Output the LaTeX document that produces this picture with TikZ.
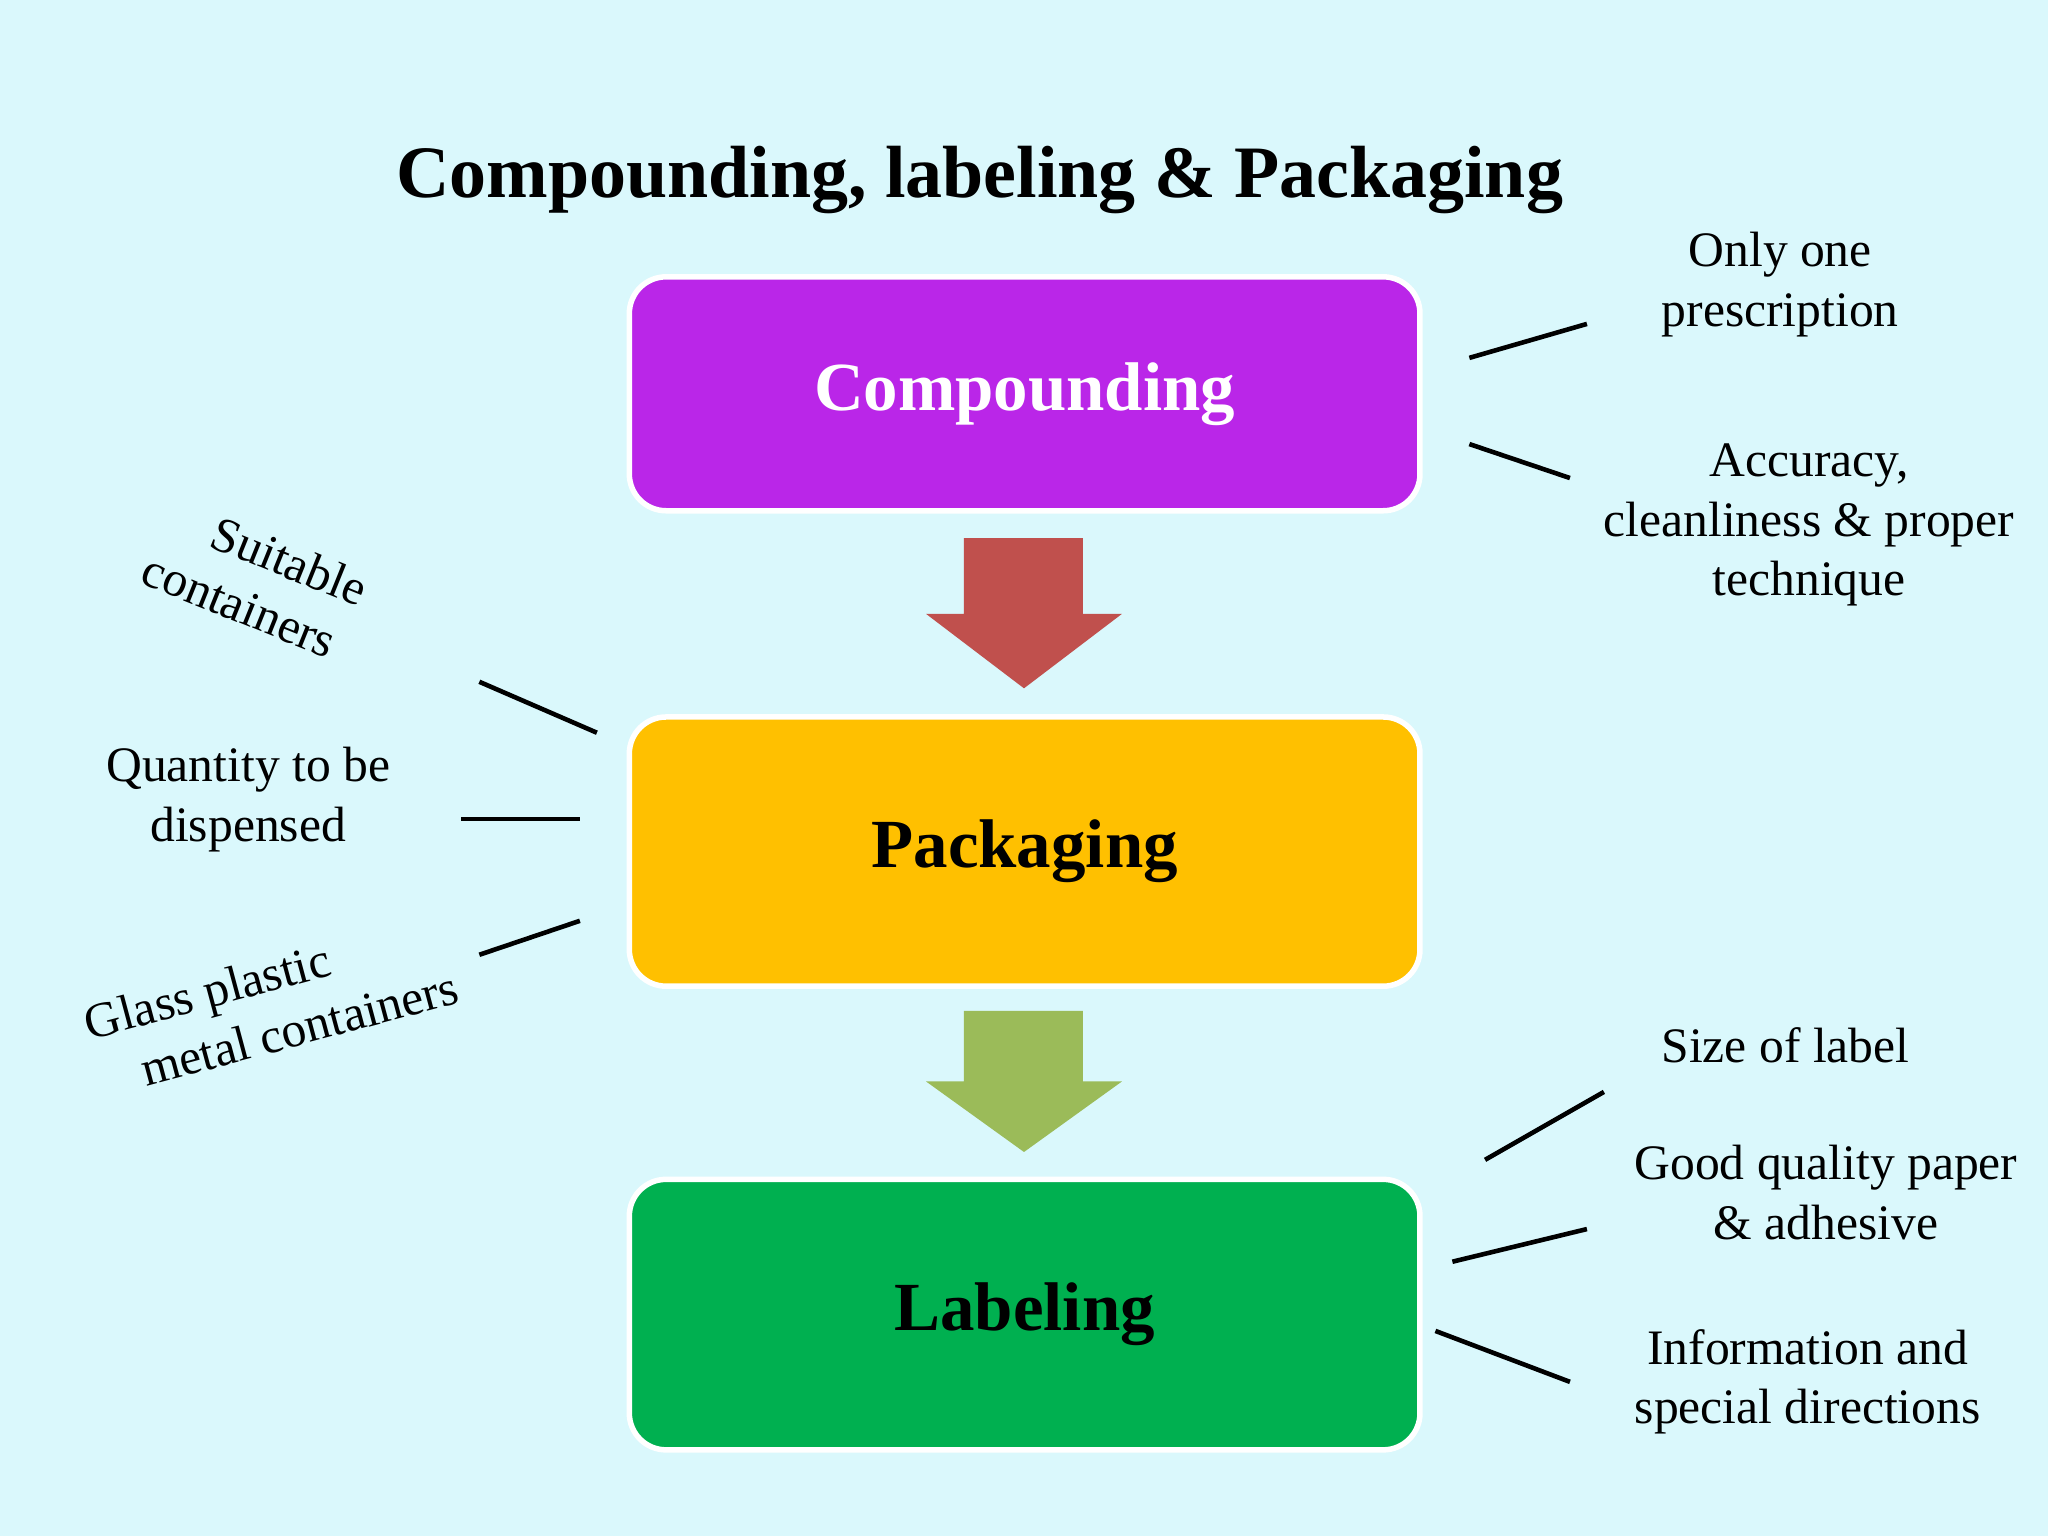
\documentclass[tikz,border=0pt]{standalone}
\usepackage{fontspec}
\setmainfont{Liberation Serif}
\definecolor{bg}{RGB}{218,248,252}
\definecolor{cmag}{RGB}{186,38,232}
\definecolor{cyel}{RGB}{255,192,0}
\definecolor{cgrn}{RGB}{0,176,80}
\definecolor{cred}{RGB}{192,80,77}
\definecolor{colive}{RGB}{155,187,89}
\begin{document}
\begin{tikzpicture}[x=0.01cm,y=-0.01cm,
  box/.style={draw=white,line width=1.2pt,rounded corners=8pt,minimum width=6.05cm,font=\fontsize{15}{18}\selectfont\bfseries},
  side/.style={align=center,font=\fontsize{10.8}{13}\selectfont},
  con/.style={line width=1pt,black}]
\fill[bg] (0,0) rectangle (1568,1176);
\node[font=\fontsize{16.1}{19}\selectfont\bfseries] (title) at (750,138) {Compounding, labeling \& Packaging};
\node[box,fill=cmag,text=white,minimum height=1.79cm] (comp) at (784.5,301.5) {Compounding};
\node[box,fill=cyel,minimum height=2.06cm] (pack) at (784.5,652) {Packaging};
\node[box,fill=cgrn,minimum height=2.07cm] (lab) at (784.5,1006.5) {Labeling};
\fill[cred] (738,412) -- (829,412) -- (829,470) -- (859,470) -- (784,527) -- (709,470) -- (738,470) -- cycle;
\fill[colive] (738,774) -- (829,774) -- (829,828) -- (859,828) -- (784,882) -- (709,828) -- (738,828) -- cycle;
\node[side] (t1) at (1363,218) {Only one\\prescription};
\node[side] (t2) at (1385,402) {Accuracy,\\cleanliness \& proper\\technique};
\node[side,rotate=-22] (t3) at (192,442) {\hspace*{1.2em}Suitable\\containers};
\node[side] (t4) at (190,612) {Quantity to be\\dispensed};
\node[side,rotate=15] (t5) at (205,770) {Glass plastic\hspace*{2.2em}\\\hspace*{1em}metal containers};
\node[side] (t6) at (1367,800) {Size of label};
\node[side] (t7) at (1398,913) {Good quality paper\\\& adhesive};
\node[side] (t8) at (1384,1058) {Information and\\special directions};
\coordinate (a1) at (1125,274); \coordinate (b1) at (1215,248);
\coordinate (a2) at (1125,340); \coordinate (b2) at (1202,366);
\coordinate (a3) at (367,522); \coordinate (b3) at (457,561);
\coordinate (a4) at (353,627); \coordinate (b4) at (444,627);
\coordinate (a5) at (367,731); \coordinate (b5) at (444,705);
\coordinate (a6) at (1137,888); \coordinate (b6) at (1228,836);
\coordinate (a7) at (1112,966); \coordinate (b7) at (1215,941);
\coordinate (a8) at (1099,1019); \coordinate (b8) at (1202,1058);
\foreach \i in {1,...,8} \draw[con] (a\i) -- (b\i);
\end{tikzpicture}
\end{document}
